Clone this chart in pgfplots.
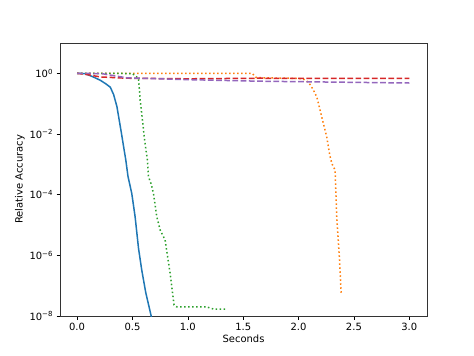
\documentclass[border=0pt]{standalone}
\usepackage{fontspec}
\setmainfont{DejaVu Sans}
\usepackage{pgfplots}
\pgfplotsset{compat=1.18}
\definecolor{c0}{HTML}{1F77B4}
\definecolor{c1}{HTML}{FF7F0E}
\definecolor{c2}{HTML}{2CA02C}
\definecolor{c3}{HTML}{D62728}
\definecolor{c4}{HTML}{9467BD}
\tikzset{mdot/.style={line width=1.5bp, dash pattern=on 1.5bp off 2.5bp},
         mdash/.style={line width=1.5bp, dash pattern=on 5.7bp off 2.5bp}}
\begin{document}
\fontsize{10}{12}\selectfont
\begin{tikzpicture}[x=1bp,y=1bp]
\path[use as bounding box] (0,0) rectangle (474,355);
\begin{axis}[
  at={(60bp,39bp)}, anchor=south west,
  scale only axis, width=367bp, height=273bp,
  ymode=log, xmin=-0.154, xmax=3.16, ymin=1e-8, ymax=10,
  xtick={0,0.5,1,1.5,2,2.5,3},
  xticklabels={0.0,0.5,1.0,1.5,2.0,2.5,3.0},
  ytick={1e-8,1e-6,1e-4,1e-2,1},
  yticklabels={10\textsuperscript{−8},10\textsuperscript{−6},10\textsuperscript{−4},10\textsuperscript{−2},10\textsuperscript{0}},
  minor ytick={}, 
  tick align=outside, tick pos=left,
  major tick length=3.5bp,
  axis line style={black!80, line width=0.6pt},
  tick style={black, line width=0.6pt},
  xlabel={Seconds}, ylabel={Relative Accuracy},
  xlabel style={yshift=2bp},
  ylabel style={yshift=-2bp},
  ticklabel style={font=\fontsize{10}{12}\selectfont},
  label style={font=\fontsize{10}{12}\selectfont},
  clip=true,
]
\addplot[c0, line width=1.5bp] coordinates {
 (0,1) (0.07,0.98) (0.14,0.78) (0.21,0.59) (0.26,0.45) (0.30,0.35) (0.33,0.2) (0.36,0.08)
 (0.40,0.011) (0.425,0.003) (0.44,0.0014) (0.46,0.0004) (0.494,0.00011) (0.524,0.000019)
 (0.555,0.0000017) (0.584,0.00000033) (0.62,0.00000006) (0.668,0.0000000105) (0.68,0.000000006)
};
\addplot[c1, mdot] coordinates {
 (0,1) (0.5,1) (1.0,1) (1.58,1) (1.62,0.72) (1.8,0.7) (2.0,0.68) (2.05,0.63) (2.09,0.51) (2.13,0.3)
 (2.165,0.166) (2.21,0.036) (2.255,0.0079) (2.28,0.0022) (2.30,0.00107) (2.33,0.00065)
 (2.345,0.0000186) (2.37,0.0000007) (2.385,0.000000056)
};
\addplot[c2, mdot] coordinates {
 (0,1) (0.3,1) (0.5,0.98) (0.555,0.68) (0.57,0.13) (0.59,0.03) (0.61,0.0063) (0.635,0.0014)
 (0.645,0.00039) (0.67,0.00022) (0.69,0.00011) (0.72,0.0000186) (0.75,0.0000069) (0.795,0.0000032)
 (0.84,0.00000026) (0.876,0.000000023) (0.90,0.00000002) (1.17,0.00000002) (1.23,0.000000017) (1.345,0.000000017)
};
\addplot[c3, mdash] coordinates {
 (0,1) (0.1,0.9) (0.21,0.76) (0.45,0.69) (1.0,0.66) (1.65,0.69) (2.0,0.68) (3.0,0.68)
};
\addplot[c4, mdash] coordinates {
 (0,1) (0.22,0.98) (0.45,0.71) (0.99,0.62) (1.65,0.55) (2.2,0.52) (3.0,0.48)
};
\end{axis}
\end{tikzpicture}
\end{document}
